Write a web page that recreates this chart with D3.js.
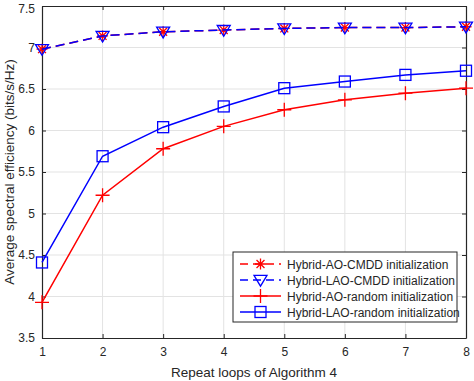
<!DOCTYPE html>
<html>
<head>
<meta charset="utf-8">
<script src="https://cdn.jsdelivr.net/npm/d3@7"></script>
<style>
  body { margin: 0; background: #fff; }
  svg { display: block; font-family: "Liberation Sans", Arial, sans-serif; }
</style>
</head>
<body>
<svg id="chart" width="474" height="381"></svg>
<script>
// data
const loops = [1, 2, 3, 4, 5, 6, 7, 8]
const aoCmdd = [6.98, 7.14, 7.19, 7.21, 7.23, 7.24, 7.24, 7.25]
const laoCmdd = [6.98, 7.14, 7.19, 7.21, 7.23, 7.24, 7.24, 7.25]
const aoRandom = [3.93, 5.22, 5.78, 6.05, 6.25, 6.37, 6.45, 6.51]
const laoRandom = [4.41, 5.69, 6.04, 6.29, 6.51, 6.59, 6.67, 6.72]
const yTicks = [3.5, 4, 4.5, 5, 5.5, 6, 6.5, 7, 7.5]

const series = [
  { name: 'Hybrid-AO-CMDD initialization', values: aoCmdd, color: '#ff0000', dash: '9,5', marker: 'star' },
  { name: 'Hybrid-LAO-CMDD initialization', values: laoCmdd, color: '#0000ff', dash: '9,5', marker: 'tri' },
  { name: 'Hybrid-AO-random initialization', values: aoRandom, color: '#ff0000', dash: null, marker: 'plus' },
  { name: 'Hybrid-LAO-random initialization', values: laoRandom, color: '#0000ff', dash: null, marker: 'square' }
]

const M = { top: 6, left: 42, right: 8, bottom: 43 }
const W = 474, H = 381
const width = W - M.left - M.right
const height = H - M.top - M.bottom

const svg = d3.select('#chart')
const g = svg.append('g').attr('transform', `translate(${M.left},${M.top})`)

const x = d3.scaleLinear().domain([1, 8]).range([0, width])
const y = d3.scaleLinear().domain([3.5, 7.5]).range([height, 0])

// grid
g.append('g').selectAll('line').data(loops.slice(1, -1)).join('line')
  .attr('x1', d => x(d)).attr('x2', d => x(d)).attr('y1', 0).attr('y2', height)
  .attr('stroke', '#e3e3e3').attr('stroke-width', 1)
g.append('g').selectAll('line').data(yTicks.slice(1, -1)).join('line')
  .attr('y1', d => y(d)).attr('y2', d => y(d)).attr('x1', 0).attr('x2', width)
  .attr('stroke', '#e3e3e3').attr('stroke-width', 1)

// axes (matlab style, inward ticks, box)
const xAxis = g.append('g').attr('transform', `translate(0,${height})`)
  .call(d3.axisBottom(x).tickValues(loops).tickFormat(d3.format('d')).tickSizeInner(-4).tickSizeOuter(0).tickPadding(9))
const yAxis = g.append('g')
  .call(d3.axisLeft(y).tickValues(yTicks).tickFormat(d => d).tickSizeInner(-4).tickSizeOuter(0).tickPadding(7))
const xTop = g.append('g')
  .call(d3.axisTop(x).tickValues(loops).tickFormat('').tickSizeInner(-4).tickSizeOuter(0))
const yRight = g.append('g').attr('transform', `translate(${width},0)`)
  .call(d3.axisRight(y).tickValues(yTicks).tickFormat('').tickSizeInner(-4).tickSizeOuter(0))

for (const a of [xAxis, yAxis, xTop, yRight]) {
  a.select('.domain').attr('stroke', '#262626').attr('stroke-width', 1.2)
  a.selectAll('.tick line').attr('stroke', '#262626')
  a.selectAll('.tick text').attr('fill', '#262626').attr('font-size', 12)
    .style('font-family', '"Liberation Sans", Arial, sans-serif')
}
// keep the top label inside the frame
yAxis.selectAll('.tick text').filter(d => d === 7.5).attr('dy', '0.5em')

// labels
svg.append('text')
  .attr('x', M.left + width / 2).attr('y', 377)
  .attr('text-anchor', 'middle').attr('font-size', 13.5).attr('fill', '#262626')
  .text('Repeat loops of Algorithm 4')
svg.append('text')
  .attr('transform', `translate(14,${M.top + height / 2}) rotate(-90)`)
  .attr('text-anchor', 'middle').attr('font-size', 13.5).attr('fill', '#262626')
  .text('Average spectral efficiency (bits/s/Hz)')

// markers
function drawMarker(sel, type, color, cx, cy) {
  const m = sel.append('g').attr('transform', `translate(${cx},${cy})`)
    .attr('fill', 'none').attr('stroke', color).attr('stroke-width', 1.3)
  if (type === 'star') {
    const r = 5.5
    m.append('path').attr('d', `M${-r},0H${r}M0,${-r}V${r}M${-r * 0.72},${-r * 0.72}L${r * 0.72},${r * 0.72}M${-r * 0.72},${r * 0.72}L${r * 0.72},${-r * 0.72}`)
  } else if (type === 'tri') {
    const r = 6.5
    m.append('path').attr('d', `M${-r},${-r * 0.7}L${r},${-r * 0.7}L0,${r * 0.95}Z`)
  } else if (type === 'plus') {
    const r = 7
    m.append('path').attr('d', `M${-r},0H${r}M0,${-r}V${r}`)
  } else if (type === 'square') {
    const r = 5.5
    m.append('rect').attr('x', -r).attr('y', -r).attr('width', 2 * r).attr('height', 2 * r)
  }
}

const line = d3.line().x((d, i) => x(loops[i])).y(d => y(d))

series.forEach(s => {
  g.append('path').datum(s.values)
    .attr('d', line).attr('fill', 'none')
    .attr('stroke', s.color).attr('stroke-width', 1.5)
    .attr('stroke-dasharray', s.dash)
  const mg = g.append('g')
  s.values.forEach((v, i) => drawMarker(mg, s.marker, s.color, x(loops[i]), y(v)))
})

// legend
const lg = svg.append('g').attr('transform', 'translate(233,252)')
lg.append('rect').attr('width', 224).attr('height', 70)
  .attr('fill', '#fff').attr('stroke', '#262626').attr('stroke-width', 1)
series.forEach((s, i) => {
  const ly = 12 + i * 16
  lg.append('line').attr('x1', 7).attr('x2', 48).attr('y1', ly).attr('y2', ly)
    .attr('stroke', s.color).attr('stroke-width', 1.5).attr('stroke-dasharray', s.dash ? '8,5' : null)
  drawMarker(lg, s.marker, s.color, 27.5, ly)
  lg.append('text').attr('x', 54).attr('y', ly + 4.5)
    .attr('font-size', 12).attr('fill', '#262626').text(s.name)
})
</script>
</body>
</html>
